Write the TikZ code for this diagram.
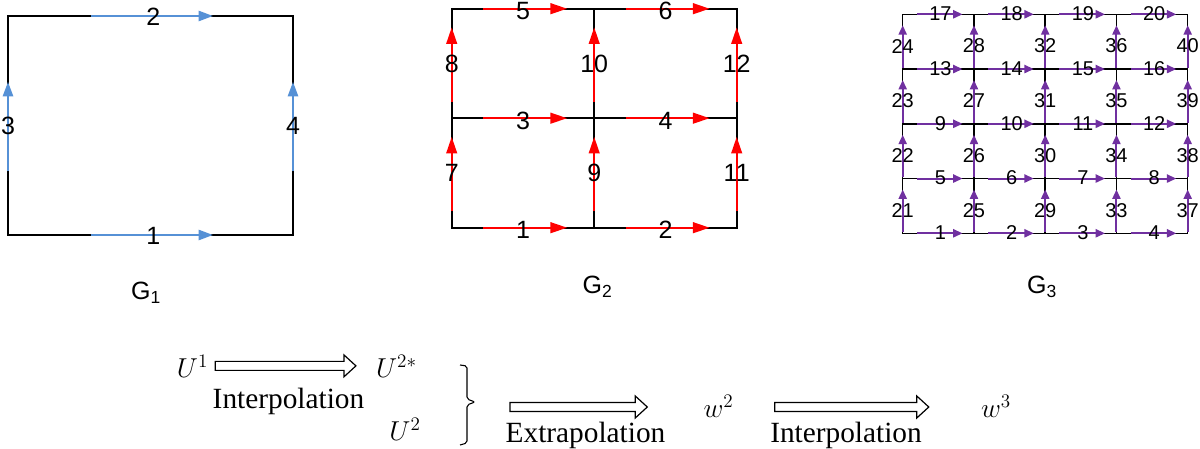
\documentclass[tikz,border=0pt]{standalone}
\usepackage{fix-cm}
\usepackage{fontspec}
\setmainfont{Liberation Serif}
\newfontfamily\arialfont{Liberation Sans}
\usetikzlibrary{arrows.meta,calc}

\definecolor{edgeblue}{RGB}{86,145,214}
\definecolor{edgered}{RGB}{255,0,0}
\definecolor{edgepurple}{RGB}{112,48,160}

\begin{document}
\begin{tikzpicture}[x=0.75pt, y=-0.75pt, every node/.style={inner sep=0pt}]
\tikzset{
  gridline/.style={draw=black, line cap=rect},
  edgearrow/.style n args={4}{draw=#1, line width=#2, -{Triangle[length=#3, width=#4]}},
  gname/.style={font=\arialfont\fontsize{18.75pt}{20pt}\selectfont},
  mathlabel/.style={font=\fontsize{20.5pt}{23pt}\selectfont},
  steplabel/.style={font=\fontsize{22pt}{24pt}\selectfont},
  bracepath/.style={draw=black, line width=0.8pt, rounded corners=1.5pt},
  fat/.style={draw=black, line width=0.9pt, line join=miter, to path={
    ($(\tikztostart)+(0,-4.5)$) -- ($(\tikztotarget)+(-12,-4.5)$) -- ($(\tikztotarget)+(-12,-11)$)
    -- (\tikztotarget) -- ($(\tikztotarget)+(-12,11)$) -- ($(\tikztotarget)+(-12,4.5)$)
    -- ($(\tikztostart)+(0,4.5)$) -- cycle}}
}
\useasboundingbox (0,0) rectangle (1200,449);

% grids G1, G2, G3: id/cells/origin/colour/arrow span/label spots/font/line/tip/grid line/label drop
\foreach \g/\n/\ox/\oy/\col/\hs/\he/\vs/\ve/\hl/\vl/\fs/\lw/\tl/\tw/\gw/\hy in {
    1/1/8/235/edgeblue/0.29/0.72/0.29/0.70/0.51/0.5/18.75/2.0/11/7.5/1.5/0.5,
    2/2/451.7/227.7/edgered/0.22/0.81/0.15/0.83/0.5/0.5/18.75/1.6/12.5/8/1.5/2.5,
    3/4/902.7/233.3/edgepurple/0.2/0.84/0.02/0.8/0.53/0.42/15/1.5/7/6/1.1/-0.5}{
  \foreach \i in {0,...,\n}{
    \foreach \j in {0,...,\n}{
      \coordinate (g\g-\i-\j) at ({\ox+\i*285/\n},{\oy-\j*219/\n});
    }
  }
  \foreach \k in {0,...,\n}{
    \draw[gridline, line width=\gw pt] (g\g-0-\k) -- (g\g-\n-\k);
    \draw[gridline, line width=\gw pt] (g\g-\k-0) -- (g\g-\k-\n);
  }
  % horizontal edges
  \foreach \j in {0,...,\n}{
    \foreach \i in {1,...,\n}{
      \pgfmathtruncatemacro\a{\i-1}
      \pgfmathtruncatemacro\num{\j*\n+\i}
      \draw[edgearrow={\col}{\lw pt}{\tl pt}{\tw pt}] ($(g\g-\a-\j)!\hs!(g\g-\i-\j)$) -- ($(g\g-\a-\j)!\he!(g\g-\i-\j)$);
      \node[font=\arialfont\fontsize{\fs pt}{\fs pt}\selectfont] (g\g-h\num) at ($(g\g-\a-\j)!\hl!(g\g-\i-\j)+(0,\hy)$) {\num};
    }
  }
  % vertical edges
  \foreach \i in {0,...,\n}{
    \foreach \j in {1,...,\n}{
      \pgfmathtruncatemacro\b{\j-1}
      \pgfmathtruncatemacro\num{\n*(\n+1)+\i*\n+\j}
      \draw[edgearrow={\col}{\lw pt}{\tl pt}{\tw pt}] ($(g\g-\i-\b)!\vs!(g\g-\i-\j)$) -- ($(g\g-\i-\b)!\ve!(g\g-\i-\j)$);
      \node[font=\arialfont\fontsize{\fs pt}{\fs pt}\selectfont] (g\g-v\num) at ($(g\g-\i-\b)!\vl!(g\g-\i-\j)$) {\num};
    }
  }
}

\node[gname] (gname1) at (146,293) {G\textsubscript{1}};
\node[gname] (gname2) at (597.5,286.5) {G\textsubscript{2}};
\node[gname] (gname3) at (1042,286.5) {G\textsubscript{3}};

% bottom row
\node[mathlabel, anchor=base] (u1) at (192.5,377) {$U^1$};
\node[mathlabel, anchor=base] (u2s) at (396.5,377) {$U^{2*}$};
\node[mathlabel, anchor=base] (u2) at (405,440) {$U^2$};
\node[steplabel, anchor=base] (interp1) at (288.5,408) {Interpolation};
\node[mathlabel, anchor=base] (w2) at (718.5,417) {$w^2$};
\node[mathlabel, anchor=base] (w3) at (996,417) {$w^3$};
\node[steplabel, anchor=base] (extrap) at (585.5,442) {Extrapolation};
\node[steplabel, anchor=base] (interp2) at (846,442) {Interpolation};

\draw[bracepath] (460,365) -- (467,366) -- (467,399) -- (475,402) coordinate (brtip) -- (467,405) -- (467,443) -- (460,445);

\coordinate (a1s) at ($(u1.east)+(7,0)$);
\coordinate (a1e) at ($(u2s.west |- a1s)+(-20,0)$);
\coordinate (a2s) at ($(brtip)+(35,5)$);
\coordinate (a2e) at ($(w2.west |- a2s)+(-56,0)$);
\coordinate (a3s) at ($(w2.east |- a2s)+(41,0)$);
\coordinate (a3e) at ($(w3.west |- a2s)+(-52,0)$);
\draw[fat] (a1s) to (a1e);
\draw[fat] (a2s) to (a2e);
\draw[fat] (a3s) to (a3e);
\end{tikzpicture}
\end{document}
